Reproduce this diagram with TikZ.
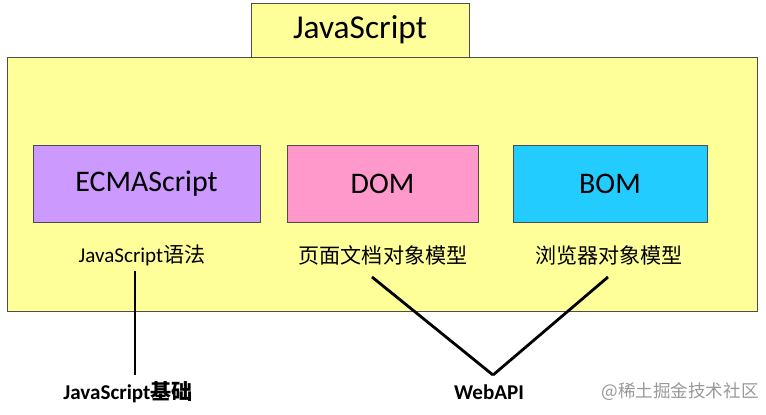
\documentclass[tikz,border=0pt]{standalone}
\usepackage{fontspec}
\setmainfont{Carlito}
\newfontfamily\cjk{Noto Sans CJK SC}
\usetikzlibrary{positioning}
\definecolor{paleyellow}{HTML}{FFFF99}
\definecolor{lilac}{HTML}{CC99FF}
\definecolor{rose}{HTML}{FF99CC}
\definecolor{sky}{HTML}{22CCFF}
\tikzset{
  frame/.style = {draw=black!70, fill=paleyellow},
  part/.style = {draw=black!70, minimum width=4.54cm, minimum height=1.54cm, font=\fontsize{17}{20}\selectfont},
  note/.style = {font=\fontsize{12}{14}\selectfont},
  tag/.style = {font=\bfseries\fontsize{12}{14}\selectfont},
  link/.style = {line width=1.6pt}
}
\begin{document}
\begin{tikzpicture}[x=0.02cm,y=-0.02cm]
\useasboundingbox (0,0) rectangle (766,414);

\draw[frame] (7,57) rectangle (757,311);
\draw[frame] (251,3) rectangle (469,57);
\node (title) at (360,30) {\fontsize{19}{22}\selectfont JavaScript};

\node(ecma) [part, fill=lilac] at (146.5,183.5) {ECMAScript};
\node(dom)  [part, fill=rose, minimum width=3.82cm] at (382.5,183.5) {DOM};
\node(bom)  [part, fill=sky, minimum width=3.88cm] at (610,183.5) {BOM};

\node(ecmanote) [note] at (142,255) {JavaScript{\cjk 语法}};
\node(domnote)  [note] at (383,255) {\cjk 页面文档对象模型};
\node(bomnote)  [note] at (609,255) {\cjk 浏览器对象模型};

\node(basic) [tag] at (128,392) {JavaScript{\cjk\bfseries 基础}};
\node(webapi) [tag] at (489,392) {WebAPI};
\node(mark) [text=black!40, font=\cjk\fontsize{10}{12}\selectfont] at (680,392) {@稀土掘金技术社区};

\coordinate (webtop) at (493,375);
\draw[link] (135,271) -- (basic.north -| 135,0);
\draw[link] (372,277) -- (webtop);
\draw[link] (608,277) -- (webtop);
\end{tikzpicture}
\end{document}
